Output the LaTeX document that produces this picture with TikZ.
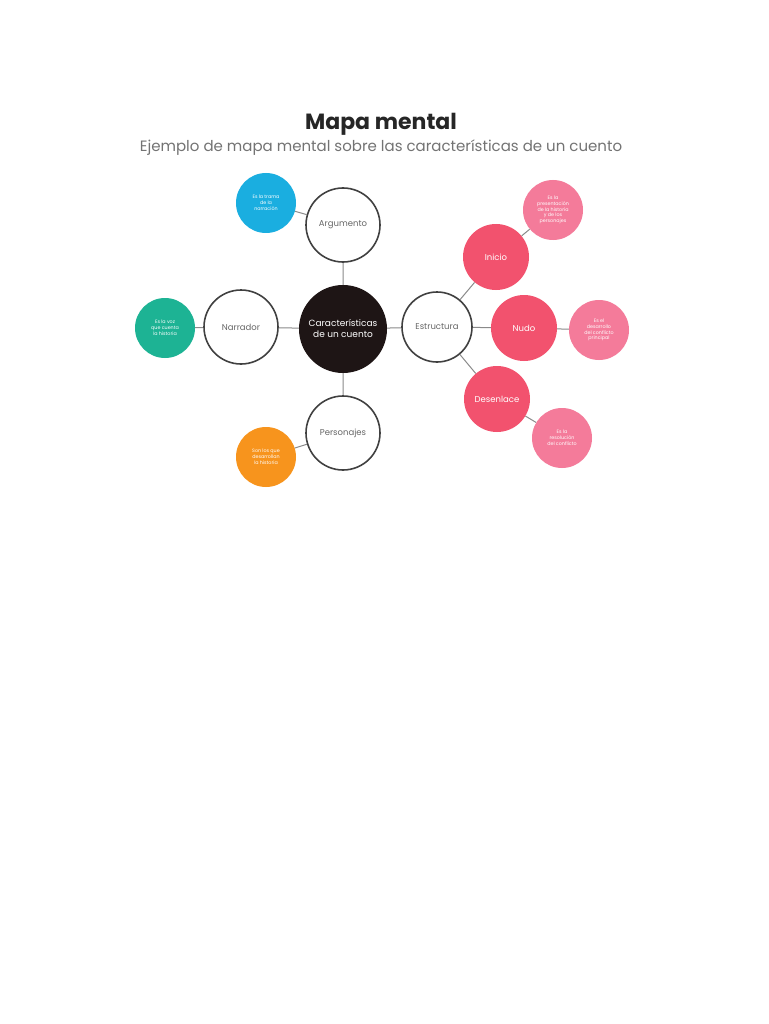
\documentclass[tikz,border=0pt]{standalone}
\usepackage{fontspec}
\setmainfont{Poppins}
\definecolor{cdark}{HTML}{1E1515}
\definecolor{cblue}{HTML}{1AAEE0}
\definecolor{cteal}{HTML}{1DB394}
\definecolor{corange}{HTML}{F7941D}
\definecolor{cpink}{HTML}{F2526E}
\definecolor{clpink}{HTML}{F47B9A}
\definecolor{cline}{HTML}{8A8A8A}
\begin{document}
\begin{tikzpicture}[x=1pt,y=-1pt,
  mainc/.style={circle,draw=black!75,line width=1.6pt,fill=white,minimum size=74pt,inner sep=0pt,font=\fontsize{8.5}{10}\selectfont,text=black!60,align=center},
  centerc/.style={circle,fill=cdark,minimum size=88pt,inner sep=0pt,font=\fontsize{9}{11}\selectfont,text=white,align=center},
  subc/.style={circle,fill=cpink,minimum size=66pt,inner sep=0pt,font=\fontsize{8.5}{10}\selectfont,text=white,align=center},
  leafc/.style={circle,minimum size=60pt,inner sep=0pt,font=\fontsize{4.8}{5.8}\selectfont,text=white,align=center},
  conn/.style={draw=cline,line width=1pt}]
\useasboundingbox (0,0) rectangle (768,1024);
\fill[white] (0,0) rectangle (768,1024);
\node[font=\bfseries\fontsize{22}{24}\selectfont,text=black!85] (title) at (381,124) {Mapa mental};
\node[font=\fontsize{15}{17}\selectfont,text=black!55] (sub) at (381,148) {Ejemplo de mapa mental sobre las características de un cuento};
% main nodes
\node[centerc] (c) at (343,329) {Características\\de un cuento};
\node[mainc] (arg) at (343,225) {Argumento};
\node[mainc] (nar) at (241,327) {Narrador};
\node[mainc,minimum size=70pt] (est) at (437,327) {Estructura};
\node[mainc] (per) at (343,433) {Personajes};
\node[subc] (ini) at (496,257) {Inicio};
\node[subc] (nud) at (524,328) {Nudo};
\node[subc] (des) at (497,399) {Desenlace};
\node[leafc,fill=cblue] (lb) at (266,203) {Es la trama\\de la\\narración};
\node[leafc,fill=cteal] (lt) at (165,328) {Es la voz\\que cuenta\\la historia};
\node[leafc,fill=corange] (lo) at (266,457) {Son los que\\desarrollan\\la historia};
\node[leafc,fill=clpink] (li) at (553,210) {Es la\\presentación\\de la historia\\y de los\\personajes};
\node[leafc,fill=clpink] (ln) at (599,330) {Es el\\desarrollo\\del conflicto\\principal};
\node[leafc,fill=clpink] (ld) at (562,438) {Es la\\resolución\\del conflicto};
% connectors
\path[conn] (c) -- (arg) (c) -- (nar) (c) -- (est) (c) -- (per)
  (est) -- (ini) (est) -- (nud) (est) -- (des)
  (lb) -- (arg) (lt) -- (nar) (lo) -- (per)
  (ini) -- (li) (nud) -- (ln) (des) -- (ld);
\end{tikzpicture}
\end{document}
